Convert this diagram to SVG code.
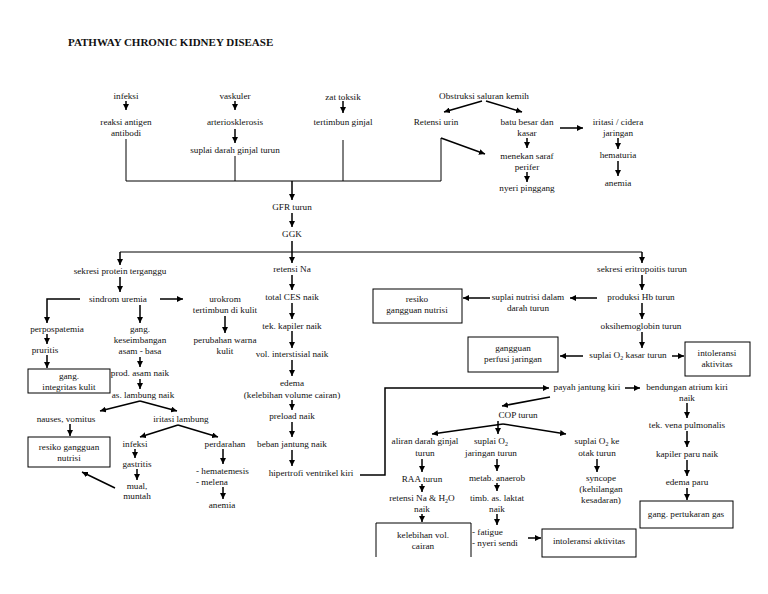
<svg xmlns="http://www.w3.org/2000/svg" width="768" height="594" viewBox="0 0 768 594">
<defs>
<marker id="ah" viewBox="0 0 10 10" refX="10" refY="5" markerWidth="6" markerHeight="6" markerUnits="userSpaceOnUse" orient="auto"><path d="M0,0 L10,5 L0,10 z" fill="#000"/></marker>
<style>
text{font-family:"Liberation Serif","Times New Roman",serif;font-size:9.2px;fill:#111;text-anchor:middle}
.l{text-anchor:start}
.title{font-size:11px;font-weight:bold;text-anchor:start}
.ln{fill:none;stroke:#000;stroke-width:1}
.ar{fill:none;stroke:#000;stroke-width:1.5;marker-end:url(#ah)}
.bx{fill:#fff;stroke:#000;stroke-width:1}
.sub{font-size:6px}
</style>
</defs>
<rect width="768" height="594" fill="#fff"/>
<text class="title" x="68" y="46">PATHWAY CHRONIC KIDNEY DISEASE</text>

<g id="connectors">
<path class="ln" d="M126,139 V181 H441 M235,156 V181 M343,140 V181 M441,138 V181"/>
<path class="ar" d="M126,101 V110"/>
<path class="ar" d="M235,101 V110"/>
<path class="ar" d="M235,129 V143"/>
<path class="ar" d="M343,101 V113"/>
<path class="ar" d="M482,101 L444,112"/>
<path class="ar" d="M486,101 L522,112"/>
<path class="ar" d="M441,138 L485,154"/>
<path class="ar" d="M527,138 V148"/>
<path class="ar" d="M527,172 V182"/>
<path class="ar" d="M560,128 H583"/>
<path class="ar" d="M618,138 V149"/>
<path class="ar" d="M618,161 V176"/>
<path class="ar" d="M292,181 V200"/>
<path class="ar" d="M292,213 V227"/>
<path class="ln" d="M120,252 H642"/>
<path class="ar" d="M292,241 V263"/>
<path class="ar" d="M120,252 V265"/>
<path class="ar" d="M642,252 V263"/>
<path class="ar" d="M120,277 V292"/>
<path class="ar" d="M80,299 H47 V323"/>
<path class="ar" d="M160,299 H183"/>
<path class="ar" d="M225,316 V333"/>
<path class="ar" d="M140,305 V323"/>
<path class="ar" d="M47,334 V344"/>
<path class="ar" d="M47,355 V368"/>
<path class="ar" d="M140,357 V367"/>
<path class="ar" d="M140,379 V389"/>
<path class="ar" d="M140,401 L100,411"/>
<path class="ar" d="M140,401 L177,411"/>
<path class="ar" d="M70,424 V436"/>
<path class="ar" d="M178,425 L140,437"/>
<path class="ar" d="M178,425 L218,437"/>
<path class="ar" d="M135,449 V458"/>
<path class="ar" d="M137,469 V480"/>
<path class="ar" d="M115,488 L82,472"/>
<path class="ar" d="M223,449 V464"/>
<path class="ar" d="M223,487 V499"/>
<path class="ar" d="M292,275 V290"/>
<path class="ar" d="M292,303 V319"/>
<path class="ar" d="M292,331 V348"/>
<path class="ar" d="M292,360 V376"/>
<path class="ar" d="M292,400 V410"/>
<path class="ar" d="M292,422 V437"/>
<path class="ar" d="M292,450 V466"/>
<path class="ar" d="M360,475 H385 V388 H549"/>
<path class="ar" d="M642,275 V290"/>
<path class="ar" d="M642,303 V319"/>
<path class="ar" d="M642,332 V348"/>
<path class="ar" d="M597,298 H570"/>
<path class="ar" d="M490,298 H463"/>
<path class="ar" d="M583,356 H560"/>
<path class="ar" d="M672,356 H684"/>
<path class="ar" d="M625,388 H640"/>
<path class="ar" d="M687,403 V418"/>
<path class="ar" d="M687,431 V447"/>
<path class="ar" d="M687,460 V476"/>
<path class="ar" d="M687,488 V500"/>
<path class="ar" d="M550,397 L502,406"/>
<path class="ar" d="M503,424 L432,434"/>
<path class="ar" d="M498,421 V434"/>
<path class="ar" d="M503,424 L566,434"/>
<path class="ar" d="M422,459 V472"/>
<path class="ar" d="M422,484 V492"/>
<path class="ar" d="M422,514 V522"/>
<path class="ar" d="M497,459 V471"/>
<path class="ar" d="M497,483 V491"/>
<path class="ar" d="M497,514 V525"/>
<path class="ar" d="M528,538 H541"/>
<path class="ar" d="M597,459 V472"/>
</g>

<g id="n_infeksi"><text x="126" y="99">infeksi</text></g>
<g id="n_reaksi"><text x="126" y="125">reaksi antigen</text><text x="126" y="136">antibodi</text></g>
<g id="n_vaskuler"><text x="235" y="99">vaskuler</text></g>
<g id="n_arterio"><text x="235" y="125">arteriosklerosis</text></g>
<g id="n_suplai_darah"><text x="235" y="153">suplai darah ginjal turun</text></g>
<g id="n_zat"><text x="343" y="100">zat toksik</text></g>
<g id="n_tertimbun"><text x="343" y="125">tertimbun ginjal</text></g>
<g id="n_obstruksi"><text x="484" y="99">Obstruksi saluran kemih</text></g>
<g id="n_retensi_urin"><text x="436" y="125">Retensi urin</text></g>
<g id="n_batu"><text x="527" y="125">batu besar dan</text><text x="527" y="136">kasar</text></g>
<g id="n_menekan"><text x="527" y="159">menekan saraf</text><text x="527" y="170">perifer</text></g>
<g id="n_nyeri"><text x="527" y="191">nyeri pinggang</text></g>
<g id="n_iritasi"><text x="618" y="125">iritasi / cidera</text><text x="618" y="136">jaringan</text></g>
<g id="n_hematuria"><text x="618" y="158">hematuria</text></g>
<g id="n_anemia1"><text x="618" y="186">anemia</text></g>
<g id="n_gfr"><text x="292" y="210">GFR turun</text></g>
<g id="n_ggk"><text x="292" y="237">GGK</text></g>
<g id="n_sekresi_protein"><text x="120" y="274">sekresi protein terganggu</text></g>
<g id="n_retensi_na"><text x="292" y="272">retensi Na</text></g>
<g id="n_sekresi_eritro"><text x="642" y="272">sekresi eritropoitis turun</text></g>
<g id="n_sindrom"><text x="118" y="302">sindrom uremia</text></g>
<g id="n_urokrom"><text x="225" y="302">urokrom</text><text x="225" y="313">tertimbun di kulit</text></g>
<g id="n_perubahan"><text x="225" y="343">perubahan warna</text><text x="225" y="354">kulit</text></g>
<g id="n_perpos"><text x="57" y="332">perpospatemia</text></g>
<g id="n_pruritis"><text x="45" y="353">pruritis</text></g>
<g id="n_gang_keseimbangan"><text x="140" y="332">gang.</text><text x="140" y="343">keseimbangan</text><text x="140" y="354">asam - basa</text></g>
<g id="n_integritas"><rect class="bx" x="28" y="369" width="82" height="24"/><text x="69" y="379">gang.</text><text x="69" y="390">integritas kulit</text></g>
<g id="n_prod_asam"><text x="140" y="376">prod. asam naik</text></g>
<g id="n_as_lambung"><text x="143" y="398">as. lambung naik</text></g>
<g id="n_nauses"><text x="66" y="422">nauses, vomitus</text></g>
<g id="n_iritasi_lambung"><text x="181" y="422">iritasi lambung</text></g>
<g id="n_resiko1"><rect class="bx" x="28" y="437" width="82" height="30"/><text x="69" y="450">resiko gangguan</text><text x="69" y="461">nutrisi</text></g>
<g id="n_infeksi2"><text x="135" y="447">infeksi</text></g>
<g id="n_perdarahan"><text x="225" y="447">perdarahan</text></g>
<g id="n_gastritis"><text x="137" y="467">gastritis</text></g>
<g id="n_mual"><text x="137" y="489">mual,</text><text x="137" y="499">muntah</text></g>
<g id="n_hemat"><text class="l" x="196" y="474">- hematemesis</text><text class="l" x="196" y="485">- melena</text></g>
<g id="n_anemia2"><text x="222" y="508">anemia</text></g>
<g id="n_total_ces"><text x="292" y="300">total CES naik</text></g>
<g id="n_tek_kapiler"><text x="292" y="329">tek. kapiler naik</text></g>
<g id="n_vol"><text x="292" y="357">vol. interstisial naik</text></g>
<g id="n_edema"><text x="292" y="386">edema</text><text x="292" y="398">(kelebihan volume cairan)</text></g>
<g id="n_preload"><text x="292" y="419">preload naik</text></g>
<g id="n_beban"><text x="292" y="447">beban jantung naik</text></g>
<g id="n_hipertrofi"><text x="311" y="476">hipertrofi ventrikel kiri</text></g>
<g id="n_resiko2"><rect class="bx" x="373" y="289" width="89" height="34"/><text x="417" y="302">resiko</text><text x="417" y="313">gangguan nutrisi</text></g>
<g id="n_suplai_nutrisi"><text x="528" y="300">suplai nutrisi dalam</text><text x="528" y="311">darah turun</text></g>
<g id="n_produksi_hb"><text x="641" y="300">produksi Hb turun</text></g>
<g id="n_oksi"><text x="641" y="329">oksihemoglobin turun</text></g>
<g id="n_suplai_o2_kasar"><text x="628" y="358">suplai O<tspan class="sub" dy="2">2</tspan><tspan dy="-2"> kasar turun</tspan></text></g>
<g id="n_perfusi"><rect class="bx" x="468" y="337" width="90" height="35"/><text x="513" y="351">gangguan</text><text x="513" y="362">perfusi jaringan</text></g>
<g id="n_intoleransi1"><rect class="bx" x="685" y="342" width="65" height="34"/><text x="717" y="356">intoleransi</text><text x="717" y="367">aktivitas</text></g>
<g id="n_payah"><text x="587" y="390">payah jantung kiri</text></g>
<g id="n_bendungan"><text x="687" y="390">bendungan atrium kiri</text><text x="687" y="401">naik</text></g>
<g id="n_tek_vena"><text x="687" y="428">tek. vena pulmonalis</text></g>
<g id="n_kapiler_paru"><text x="687" y="457">kapiler paru naik</text></g>
<g id="n_edema_paru"><text x="687" y="485">edema paru</text></g>
<g id="n_gas"><rect class="bx" x="640" y="501" width="93" height="27"/><text x="686" y="517">gang. pertukaran gas</text></g>
<g id="n_cop"><text x="518" y="418">COP turun</text></g>
<g id="n_aliran"><text x="425" y="444">aliran darah ginjal</text><text x="425" y="456">turun</text></g>
<g id="n_suplai_o2_jar"><text x="491" y="444">suplai O<tspan class="sub" dy="2">2</tspan></text><text x="491" y="456">jaringan turun</text></g>
<g id="n_suplai_o2_otak"><text x="597" y="444">suplai O<tspan class="sub" dy="2">2</tspan><tspan dy="-2"> ke</tspan></text><text x="597" y="456">otak turun</text></g>
<g id="n_syncope"><text x="601" y="481">syncope</text><text x="601" y="492">(kehilangan</text><text x="601" y="503">kesadaran)</text></g>
<g id="n_raa"><text x="422" y="482">RAA turun</text></g>
<g id="n_retensi_na2"><text x="422" y="501">retensi Na &amp; H<tspan class="sub" dy="2">2</tspan><tspan dy="-2">O</tspan></text><text x="422" y="512">naik</text></g>
<g id="n_kelebihan"><path class="ln" d="M376,557 V523 H471 V557"/><text x="423" y="538">kelebihan vol.</text><text x="423" y="549">cairan</text></g>
<g id="n_metab"><text x="497" y="481">metab. anaerob</text></g>
<g id="n_timb"><text x="497" y="501">timb. as. laktat</text><text x="497" y="512">naik</text></g>
<g id="n_fatigue"><text class="l" x="472" y="535">- fatigue</text><text class="l" x="472" y="546">- nyeri sendi</text></g>
<g id="n_intoleransi2"><rect class="bx" x="542" y="529" width="94" height="28"/><text x="589" y="544">intoleransi aktivitas</text></g>
</svg>
